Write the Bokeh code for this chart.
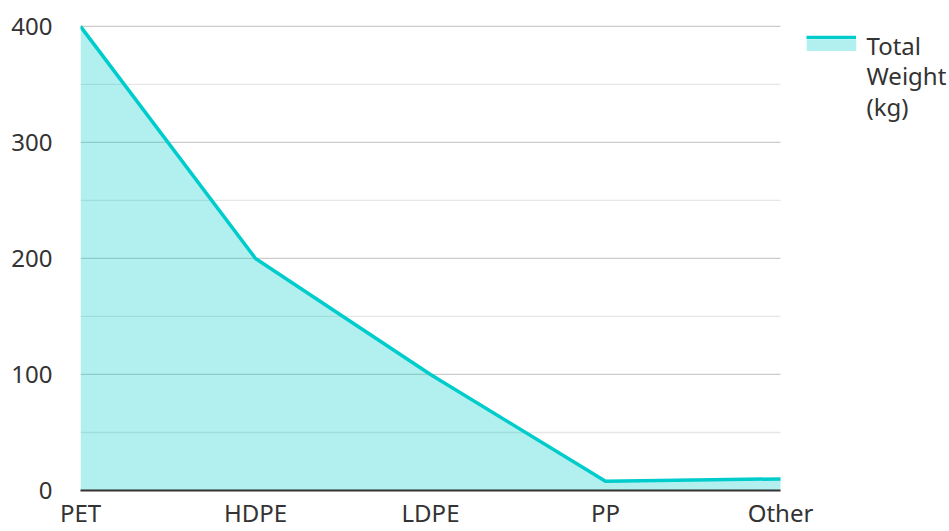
from bokeh.plotting import figure
from bokeh.models import Range1d, FixedTicker, ColumnDataSource, Legend, LegendItem, Label
from bokeh.embed import file_html
from bokeh.resources import INLINE

categories = ["PET", "HDPE", "LDPE", "PP", "Other"]
weights = [400, 200, 100, 8, 10]
y_ticks = [0, 100, 200, 300, 400]
y_minor = [50, 150, 250, 350]
legend_lines = ["Total", "Weight", "(kg)"]

xs = list(range(len(categories)))
src = ColumnDataSource(dict(x=xs, y=weights, y0=[0] * len(xs)))

FONT = "Noto Sans"
LINE_C = "#00cccc"
TEXT_C = "#333333"

W, H = 949, 531
LEFT, BOTTOM = 80, 39
PLOT_W, PLOT_H = 700, 466          # size of the data area (category span x 0..400)
frame_w = W - LEFT
frame_h = H - BOTTOM
x_end = (len(categories) - 1) * frame_w / PLOT_W
y_end = y_ticks[-1] * frame_h / PLOT_H

p = figure(width=W, height=H, output_backend="svg", toolbar_location=None, title=None,
           x_range=Range1d(0, x_end), y_range=Range1d(0, y_end),
           min_border_left=LEFT, min_border_top=0, min_border_bottom=BOTTOM, min_border_right=0)
p.outline_line_color = None
p.background_fill_color = "white"
p.xgrid.visible = False
p.ygrid.visible = False

# grid lines limited to the category span
last = len(categories) - 1
p.segment(x0=[0] * len(y_minor), x1=[last] * len(y_minor), y0=y_minor, y1=y_minor,
          line_color="#e6e6e6", line_width=1.3)
p.segment(x0=[0] * len(y_ticks), x1=[last] * len(y_ticks), y0=y_ticks, y1=y_ticks,
          line_color="#cccccc", line_width=1.3)

area = p.varea(x="x", y1="y0", y2="y", source=src, fill_color=LINE_C, fill_alpha=0.3)
line = p.line(x="x", y="y", source=src, line_color=LINE_C, line_width=3.5)

p.xaxis.ticker = FixedTicker(ticks=xs)
p.xaxis.major_label_overrides = {i: c for i, c in enumerate(categories)}
p.xaxis.bounds = (0, last)
p.yaxis.ticker = FixedTicker(ticks=y_ticks, minor_ticks=y_minor)
for ax in (p.xaxis, p.yaxis):
    ax.major_tick_line_color = None
    ax.minor_tick_line_color = None
    ax.major_label_text_font = FONT
    ax.major_label_text_font_size = "24px"
    ax.major_label_text_color = TEXT_C
p.yaxis.axis_line_color = None
p.xaxis.axis_line_color = "#333333"
p.xaxis.axis_line_width = 2
p.xaxis.major_tick_out = 0
p.xaxis.major_tick_in = 0
p.xaxis.minor_tick_out = 0
p.xaxis.major_label_standoff = 5
p.yaxis.major_label_standoff = 22

# legend swatches: fill just below the line
legend_fill = Legend(items=[LegendItem(label=" ", renderers=[area])],
                     location=(720, 438), border_line_color=None, background_fill_alpha=0,
                     label_text_font=FONT, label_text_font_size="8px",
                     glyph_width=62, glyph_height=14, label_height=14,
                     padding=0, spacing=0, margin=0, label_standoff=0)
p.add_layout(legend_fill)
legend_line = Legend(items=[LegendItem(label=" ", renderers=[line])],
                     location=(726, 446), border_line_color=None, background_fill_alpha=0,
                     label_text_font=FONT, label_text_font_size="8px",
                     glyph_width=50, glyph_height=14, label_height=14,
                     padding=0, spacing=0, margin=0, label_standoff=0)
p.add_layout(legend_line)

# legend text, one line per label
baselines_px = [46.7, 77.3, 108]
for t, b in zip(legend_lines, baselines_px):
    p.add_layout(Label(x=786, y=frame_h - b, x_units="screen", y_units="screen", text=t,
                       text_font=FONT, text_font_size="24px", text_color=TEXT_C,
                       text_baseline="alphabetic", text_align="left"))

open("out.html", "w").write(file_html(p, INLINE))
